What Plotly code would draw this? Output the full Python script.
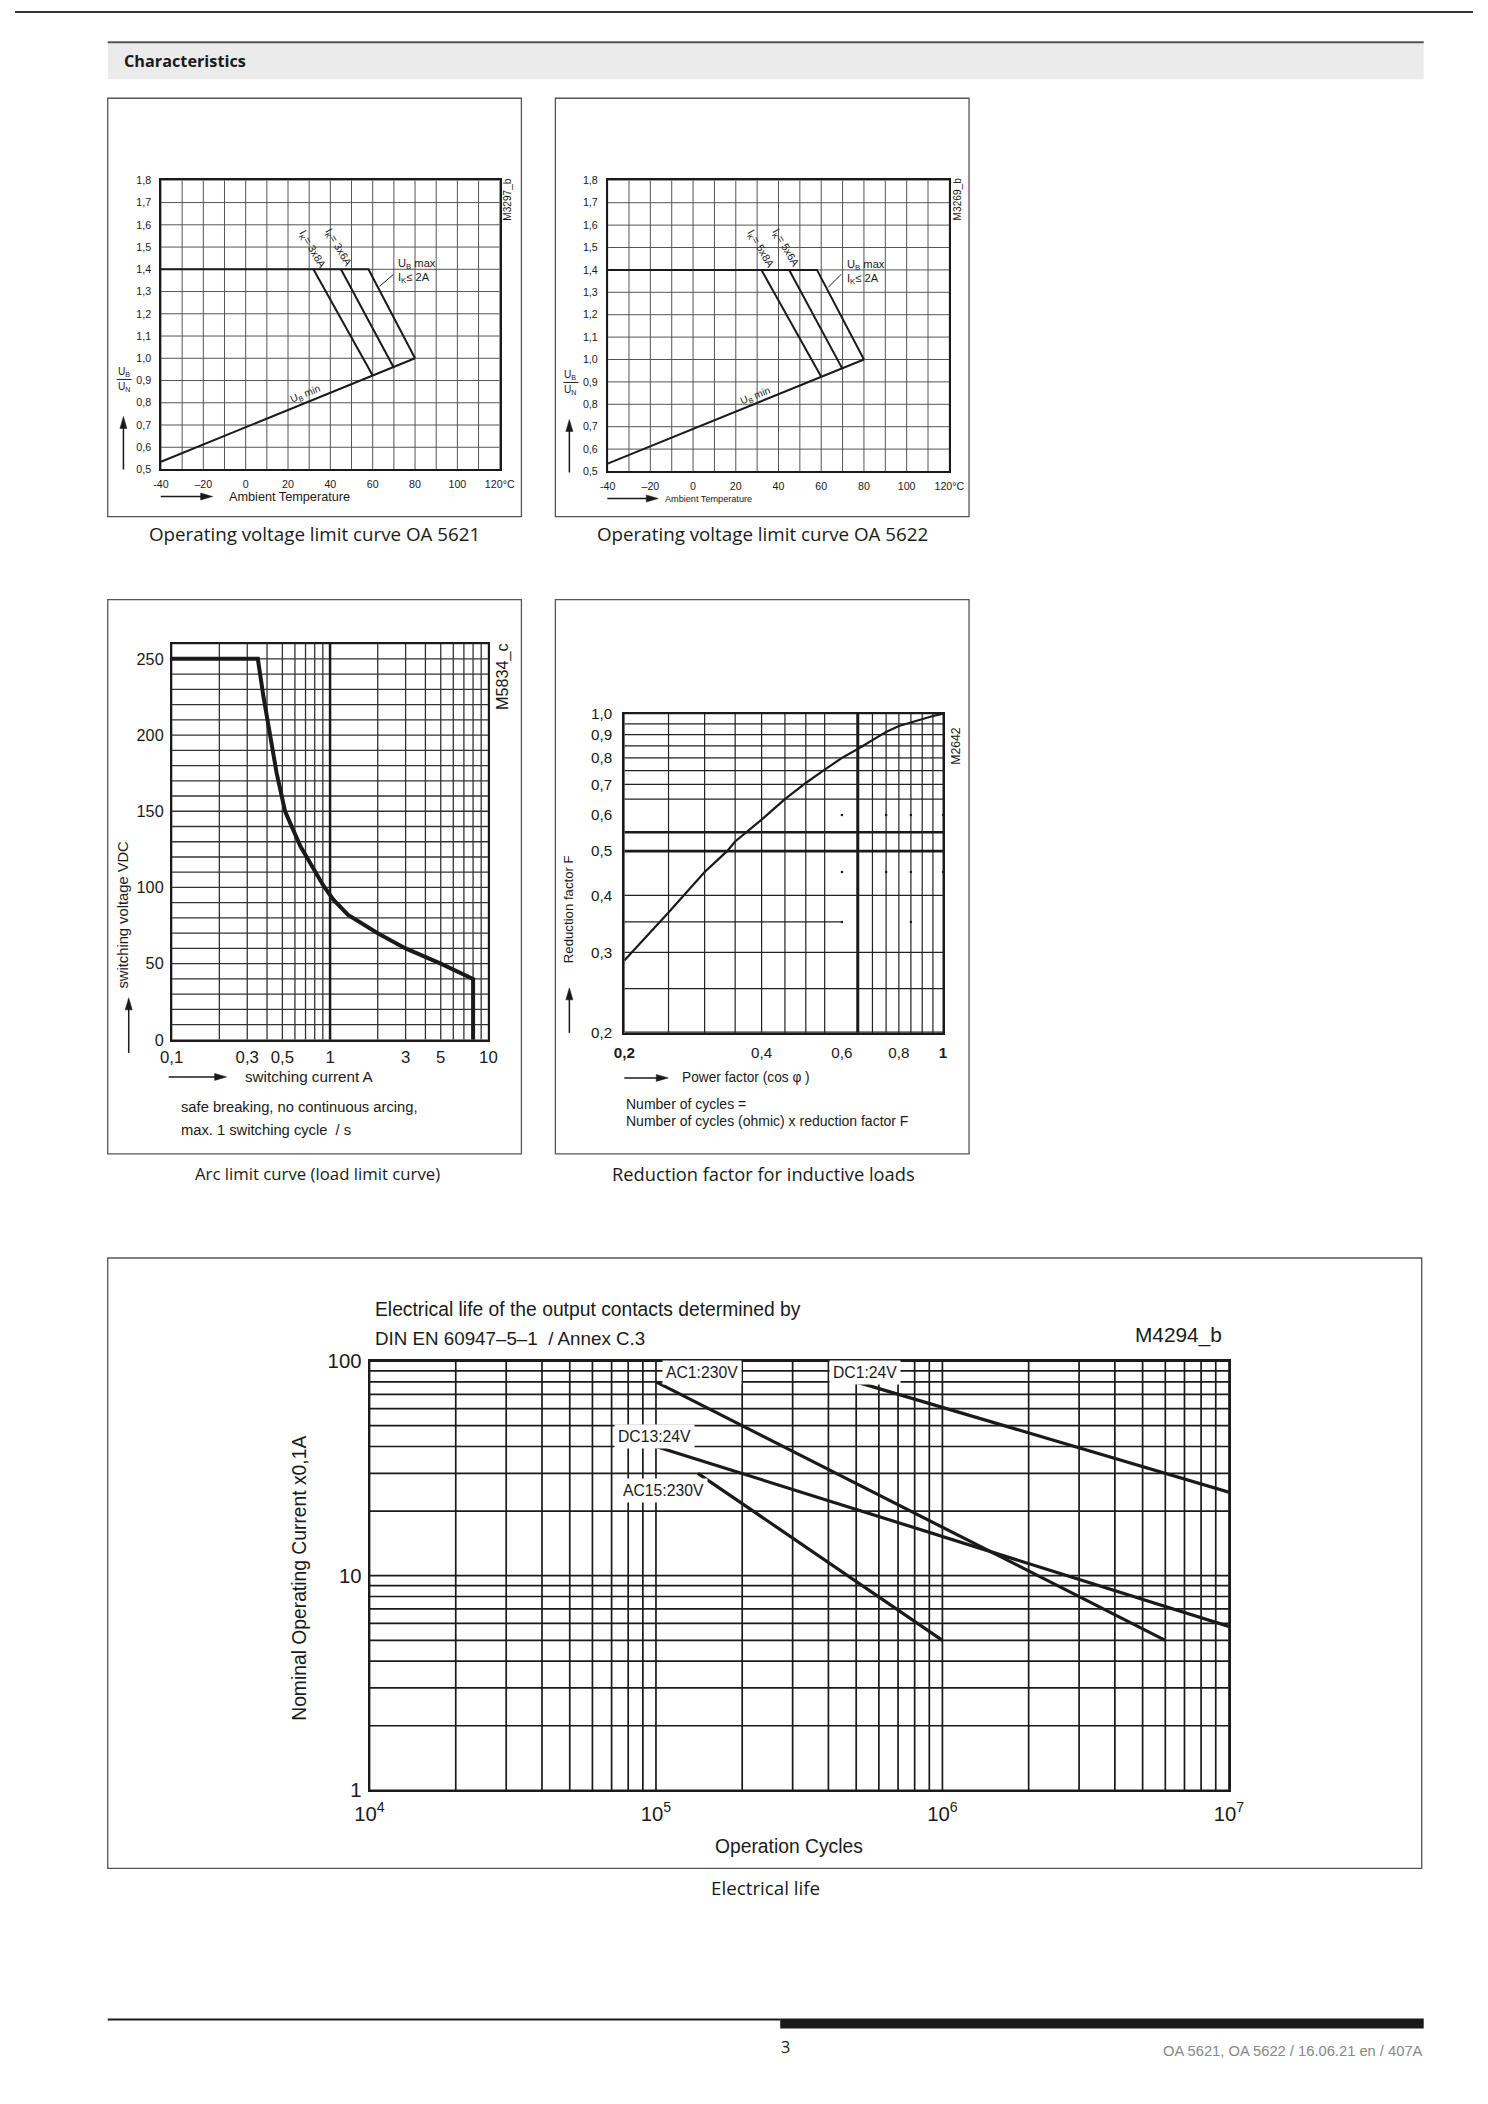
import plotly.graph_objects as go

W, H = 1488, 2104
INK = "#1a1a1a"

# ---------------- data ----------------
# Chart 1 / 2 : operating voltage limit curves (ambient temperature vs UB/UN)
temp_grid = [-40, -30, -20, -10, 0, 10, 20, 30, 40, 50, 60, 70, 80, 90, 100, 110, 120]
temp_ticks = [-40, -20, 0, 20, 40, 60, 80, 100, 120]
temp_labels = ["-40", "\u201320", "0", "20", "40", "60", "80", "100", "120\u00b0C"]
ratio_grid = [0.5, 0.6, 0.7, 0.8, 0.9, 1.0, 1.1, 1.2, 1.3, 1.4, 1.5, 1.6, 1.7, 1.8]
ratio_labels = ["0,5", "0,6", "0,7", "0,8", "0,9", "1,0", "1,1", "1,2", "1,3", "1,4", "1,5", "1,6", "1,7", "1,8"]
ubmax_T = [-40, 58, 80]
ubmax_U = [1.4, 1.4, 1.0]
ubmin_T = [-40, 80]
ubmin_U = [0.535, 1.0]
ik8_T = [32, 60]
ik8_U = [1.4, 0.923]
ik6_T = [45, 70]
ik6_U = [1.4, 0.957]

# Chart 3 : arc limit curve
arc_xgrid = [0.1, 0.2, 0.3, 0.4, 0.5, 0.6, 0.7, 0.8, 0.9, 1, 2, 3, 4, 5, 6, 7, 8, 9, 10]
arc_xgrid_bold = [1]
arc_xticks = [0.1, 0.3, 0.5, 1, 3, 5, 10]
arc_xlabels = ["0,1", "0,3", "0,5", "1", "3", "5", "10"]
arc_ygrid = list(range(0, 270, 10))
arc_yticks = [0, 50, 100, 150, 200, 250]
arc_ylabels = ["0", "50", "100", "150", "200", "250"]
arc_I = [0.1, 0.35, 0.38, 0.42, 0.46, 0.52, 0.65, 0.79, 0.91, 1.05, 1.3, 2.0, 3.0, 5.0, 8.0, 8.0]
arc_U = [250, 250, 225, 200, 175, 150, 127, 112, 101, 92, 82, 70, 60, 50, 40, 0]

# Chart 4 : reduction factor for inductive loads
pf_vgrid = [0.2, 0.25, 0.3, 0.35, 0.4, 0.45, 0.5, 0.55, 0.7, 0.75, 0.8, 0.85, 0.9, 0.95, 1.0]
pf_vgrid_bold = [0.65]
rf_hgrid = [0.25, 0.3, 0.4, 0.65, 0.7, 0.75, 0.8, 0.85, 0.9, 0.95, 1.0]
rf_hgrid_bold = [0.2, 0.5, 0.55]
rf_hgrid_part = [0.35]
dots_x = [0.6, 0.75, 0.85, 1.0, 0.6, 0.75, 0.85, 1.0, 0.6, 0.85]
dots_y = [0.6, 0.6, 0.6, 0.6, 0.45, 0.45, 0.45, 0.45, 0.35, 0.35]
pf_xticks = [0.2, 0.4, 0.6, 0.8, 1.0]
pf_xlabels = ["<b>0,2</b>", "0,4", "0,6", "0,8", "<b>1</b>"]
rf_yticks = [0.2, 0.3, 0.4, 0.5, 0.6, 0.7, 0.8, 0.9, 1.0]
rf_ylabels = ["0,2", "0,3", "0,4", "0,5", "0,6", "0,7", "0,8", "0,9", "1,0"]
pf = [0.2, 0.25, 0.3, 0.336, 0.35, 0.371, 0.4, 0.45, 0.5, 0.55, 0.6, 0.65, 0.7, 0.75, 0.8, 0.85, 0.9, 0.95, 1.0]
rf = [0.288, 0.367, 0.45, 0.5, 0.525, 0.55, 0.586, 0.65, 0.705, 0.754, 0.80, 0.837, 0.875, 0.912, 0.94, 0.958, 0.974, 0.988, 1.0]

# Chart 5 : electrical life
life_xgrid = [m * 10 ** e for e in (4, 5, 6) for m in range(1, 10)] + [1e7]
life_xticks = [1e4, 1e5, 1e6, 1e7]
life_xlabels = ["10<sup>4</sup>", "10<sup>5</sup>", "10<sup>6</sup>", "10<sup>7</sup>"]
life_ygrid = [m * 10 ** e for e in (0, 1) for m in range(1, 10)] + [100]
life_yticks = [1, 10, 100]
life_ylabels = ["1", "10", "100"]
ac1_x, ac1_y = [1e5, 6e6], [80, 5]
dc1_x, dc1_y = [5e5, 1e7], [80, 24.5]
dc13_x, dc13_y = [1e5, 1e7], [40, 5.8]
ac15_x, ac15_y = [1.4e5, 1e6], [30, 5]

# ---------------- page geometry helpers ----------------
# the captured page is slightly scaled about its centre; positions below are
# given in target-image pixels and mapped back to figure pixels here.
SX, OX = 0.9806, 14.2
SY, OY = 0.9889, 11.8
FS = 1.0 / 0.985


def px(x):
    return ((x - OX) / SX) / W


def py(y):
    return 1 - ((y - OY) / SY) / H


def f(s):
    return round(s * FS, 2)


def axis(dom, rng, typ, vals, texts, anchor, size, standoff, lw=1.5, fam="Liberation Sans"):
    return dict(domain=dom, range=rng, type=typ, tickmode="array", tickvals=vals,
                ticktext=texts, showgrid=False, showline=True, mirror=True,
                linecolor=INK, linewidth=lw, ticks="", zeroline=False, anchor=anchor,
                fixedrange=True, tickfont=dict(family=fam, size=f(size), color=INK),
                ticklabelstandoff=standoff)


def line(x, y, xa, ya, w=2, col=INK):
    return go.Scatter(x=x, y=y, xaxis=xa, yaxis=ya, mode="lines",
                      line=dict(color=col, width=w), hoverinfo="skip", showlegend=False)


def add_grid(fig, vals, lo, hi, vertical, xa, ya, w, col):
    xs, ys = [], []
    for v in vals:
        if vertical:
            xs += [v, v, None]
            ys += [lo, hi, None]
        else:
            xs += [lo, hi, None]
            ys += [v, v, None]
    fig.add_trace(line(xs, ys, xa, ya, w=w, col=col))


ann = []
shapes = []


def text(x, y, t, size=12, xanchor="center", yanchor="middle", angle=0,
         fam="Liberation Sans", col=INK, bg=None):
    d = dict(x=px(x), y=py(y), xref="paper", yref="paper", text=t, showarrow=False,
             xanchor=xanchor, yanchor=yanchor, textangle=angle,
             font=dict(family=fam, size=f(size), color=col))
    if bg:
        d.update(bgcolor=bg, borderpad=3)
    ann.append(d)


def seg(x0, y0, x1, y1, w=1, col=INK):
    shapes.append(dict(type="line", xref="paper", yref="paper", x0=px(x0), y0=py(y0),
                       x1=px(x1), y1=py(y1), line=dict(color=col, width=w)))


def arrow(x0, y0, x1, y1, w=1.5, hl=12, hw=3.5):
    # straight arrow (horizontal or vertical) drawn as a line + filled head
    if y0 == y1:
        d = 1 if x1 > x0 else -1
        seg(x0, y0, x1 - d * hl * 0.6, y1, w=w)
        pts = [(x1, y1), (x1 - d * hl, y1 - hw), (x1 - d * hl, y1 + hw)]
    else:
        d = 1 if y1 > y0 else -1
        seg(x0, y0, x1, y1 - d * hl * 0.6, w=w)
        pts = [(x1, y1), (x1 - hw, y1 - d * hl), (x1 + hw, y1 - d * hl)]
    path = "M %f %f L %f %f L %f %f Z" % (px(pts[0][0]), py(pts[0][1]), px(pts[1][0]),
                                          py(pts[1][1]), px(pts[2][0]), py(pts[2][1]))
    shapes.append(dict(type="path", xref="paper", yref="paper", path=path,
                       fillcolor=INK, line=dict(color=INK, width=0.5)))


def box(x0, y0, x1, y1, col="#555", w=1.3, fill=None):
    d = dict(type="rect", xref="paper", yref="paper", x0=px(x0), y0=py(y1),
             x1=px(x1), y1=py(y0), line=dict(color=col, width=w), layer="below")
    if fill:
        d["fillcolor"] = fill
    shapes.append(d)


fig = go.Figure()

# ---------------- Chart 1 & 2 ----------------
for xa, ya in [("x", "y"), ("x2", "y2")]:
    add_grid(fig, temp_grid, 0.5, 1.8, True, xa, ya, 1, "#555")
    add_grid(fig, ratio_grid, -40, 120, False, xa, ya, 1, "#555")
    for (xx, yy) in [(ubmax_T, ubmax_U), (ubmin_T, ubmin_U), (ik8_T, ik8_U), (ik6_T, ik6_U)]:
        fig.add_trace(line(xx, yy, xa, ya, w=2))

# ---------------- Chart 3 ----------------
add_grid(fig, arc_xgrid, 0, 260, True, "x3", "y3", 1.3, "#333")
add_grid(fig, arc_ygrid, 0.1, 10, False, "x3", "y3", 1.3, "#333")
add_grid(fig, arc_xgrid_bold, 0, 260, True, "x3", "y3", 2.5, INK)
fig.add_trace(line(arc_I, arc_U, "x3", "y3", w=4))

# ---------------- Chart 4 ----------------
add_grid(fig, pf_vgrid, 0.2, 1.0, True, "x4", "y4", 1.2, "#222")
add_grid(fig, pf_vgrid_bold, 0.2, 1.0, True, "x4", "y4", 3, INK)
add_grid(fig, rf_hgrid, 0.2, 1.0, False, "x4", "y4", 1.2, "#222")
add_grid(fig, rf_hgrid_part, 0.2, 0.6, False, "x4", "y4", 1.2, "#222")
add_grid(fig, rf_hgrid_bold, 0.2, 1.0, False, "x4", "y4", 2.6, INK)
fig.add_trace(go.Scatter(x=dots_x, y=dots_y, xaxis="x4", yaxis="y4", mode="markers",
                         marker=dict(color=INK, size=2.5), hoverinfo="skip", showlegend=False))
fig.add_trace(line(pf, rf, "x4", "y4", w=2.2))

# ---------------- Chart 5 ----------------
add_grid(fig, life_xgrid, 1, 100, True, "x5", "y5", 1.7, INK)
add_grid(fig, life_ygrid, 1e4, 1e7, False, "x5", "y5", 1.7, INK)
for (xx, yy) in [(ac1_x, ac1_y), (dc1_x, dc1_y), (dc13_x, dc13_y), (ac15_x, ac15_y)]:
    fig.add_trace(line(xx, yy, "x5", "y5", w=3.2))

# ---------------- page furniture ----------------
shapes.append(dict(type="line", xref="paper", yref="paper", x0=0, x1=1, y0=1 - 1 / H, y1=1 - 1 / H,
                   line=dict(color="#333", width=2)))
box(107, 43, 1424, 80, col="#ebebeb", w=0, fill="#ebebeb")
seg(107, 43, 1424, 43, w=2, col="#555")
text(121, 62, "<b>Characteristics</b>", size=16, xanchor="left", fam="Open Sans")

for (x0, y0, x1, y1) in [(107, 99, 521, 517), (555, 99, 969, 517),
                          (107, 600, 521, 1154), (555, 600, 969, 1154),
                          (107, 1258, 1422, 1868)]:
    box(x0, y0, x1, y1)

# chart 1 texts
text(507, 200, "M3297_b", size=10, angle=-90)
text(395, 265, "U<sub>B</sub> max", size=11, xanchor="left")
text(395, 279, "I<sub>K</sub>\u2264 2A", size=11, xanchor="left")
seg(379, 287, 393, 275, w=1)
text(311, 250, "I<sub>K</sub>= 3x8A", size=10.5, angle=60)
text(337, 248, "I<sub>K</sub>= 3x6A", size=10.5, angle=60)
text(305, 395, "U<sub>B</sub> min", size=10, angle=-22)
text(123, 373, "U<sub>B</sub>", size=10)
seg(116, 380, 131, 380, w=1)
text(123, 388, "U<sub>N</sub>", size=10)
arrow(122.7, 470, 122.7, 417)
arrow(160, 497, 212, 497)
text(226, 497, "Ambient Temperature", size=12.5, xanchor="left")
text(314, 534, "Operating voltage limit curve OA 5621", size=18.5, fam="Open Sans")

# chart 2 texts
text(957, 200, "M3269_b", size=10, angle=-90)
text(845, 266, "U<sub>B</sub> max", size=11, xanchor="left")
text(845, 280, "I<sub>K</sub>\u2264 2A", size=11, xanchor="left")
seg(828, 288, 841, 275, w=1)
text(760, 250, "I<sub>K</sub>= 5x8A", size=10.5, angle=60)
text(785, 249, "I<sub>K</sub>= 5x6A", size=10.5, angle=60)
text(755, 397, "U<sub>B</sub> min", size=10, angle=-22)
text(570, 376, "U<sub>B</sub>", size=10)
seg(563, 383, 578, 383, w=1)
text(570, 391, "U<sub>N</sub>", size=10)
arrow(569, 473, 569, 420)
arrow(607, 499, 658, 499)
text(663, 499, "Ambient Temperature", size=9, xanchor="left")
text(762, 534, "Operating voltage limit curve OA 5622", size=18.5, fam="Open Sans")

# chart 3 texts
text(502, 677, "M5834_c", size=16, angle=-90)
text(122, 915, "switching voltage VDC", size=14.5, angle=-90)
arrow(128, 1053, 128, 998)
arrow(168, 1077, 226, 1077)
text(242, 1077, "switching current A", size=15, xanchor="left")
text(178, 1107, "safe breaking, no continuous arcing,", size=14.5, xanchor="left")
text(178, 1130, "max. 1 switching cycle  / s", size=14.5, xanchor="left")
text(317, 1174, "Arc limit curve (load limit curve)", size=16.5, fam="Open Sans")

# chart 4 texts
text(956, 747, "M2642", size=12, angle=-90)
text(568, 909, "Reduction factor F", size=13, angle=-90)
arrow(569, 1033, 569, 988, w=1.5)
arrow(624, 1078, 668, 1078, w=1.5)
text(680, 1078, "Power factor (cos \u03c6 )", size=13.5, xanchor="left")
text(624, 1104, "Number of cycles =", size=13.8, xanchor="left")
text(624, 1121, "Number of cycles (ohmic) x reduction factor F", size=13.8, xanchor="left")
text(763, 1174, "Reduction factor for inductive loads", size=18, fam="Open Sans")

# chart 5 texts
text(372, 1309, "Electrical life of the output contacts determined by", size=19, xanchor="left")
text(372, 1338, "DIN EN 60947\u20135\u20131  / Annex C.3", size=18.5, xanchor="left")
text(1224, 1335, "M4294_b", size=20.5, xanchor="right")
text(299, 1578, "Nominal Operating Current x0,1A", size=19, angle=-90)
text(789, 1846, "Operation Cycles", size=19)
text(765, 1888, "Electrical life", size=18.5, fam="Open Sans")
text(662, 1372, "AC1:230V", size=15.5, xanchor="left", bg="white")
text(829, 1372, "DC1:24V", size=15.5, xanchor="left", bg="white")
text(614, 1436, "DC13:24V", size=15.5, xanchor="left", bg="white")
text(619, 1490, "AC15:230V", size=15.5, xanchor="left", bg="white")

# footer
seg(107, 2019, 780, 2019, w=2, col=INK)
box(780, 2018, 1424, 2028, col=INK, w=0, fill=INK)
text(785, 2046, "3", size=16, fam="Open Sans")
text(1425, 2050, "OA 5621, OA 5622 / 16.06.21 en / 407A", size=14.5, xanchor="right", col="#888")

# ---------------- layout ----------------
layout = dict(
    width=W, height=H, margin=dict(l=0, r=0, t=0, b=0),
    paper_bgcolor="white", plot_bgcolor="white", showlegend=False,
    font=dict(family="Liberation Sans", color=INK),
    annotations=ann, shapes=shapes,
    xaxis=axis([px(160.3), px(499.3)], [-40, 120], "linear", temp_ticks, temp_labels, "y", 10.5, 4),
    yaxis=axis([py(470), py(181)], [0.5, 1.8], "linear", ratio_grid, ratio_labels, "x", 10.5, 6),
    xaxis2=axis([px(607.3), px(949.3)], [-40, 120], "linear", temp_ticks, temp_labels, "y2", 10.5, 4),
    yaxis2=axis([py(472), py(181)], [0.5, 1.8], "linear", ratio_grid, ratio_labels, "x2", 10.5, 6),
    xaxis3=axis([px(171), px(488)], [-1, 1], "log", arc_xticks, arc_xlabels, "y3", 16.5, 1),
    yaxis3=axis([py(1040), py(644)], [0, 260], "linear", arc_yticks, arc_ylabels, "x3", 16, 3),
    xaxis4=axis([px(624), px(943)], [-0.69897, 0], "log", pf_xticks, pf_xlabels, "y4", 15, 5, lw=2),
    yaxis4=axis([py(1033), py(714)], [-0.69897, 0], "log", rf_yticks, rf_ylabels, "x4", 15, 7, lw=2),
    xaxis5=axis([px(369), px(1229)], [4, 7], "log", life_xticks, life_xlabels, "y5", 20, 4, lw=2),
    yaxis5=axis([py(1790), py(1361)], [0, 2], "log", life_yticks, life_ylabels, "x5", 20, 2, lw=2),
)
fig.update_layout(**layout)
fig.write_html(
    "out.html",
    config={"displayModeBar": False},
    post_script="document.body.style.margin='0px';"
                "document.documentElement.style.overflow='hidden';",
)
